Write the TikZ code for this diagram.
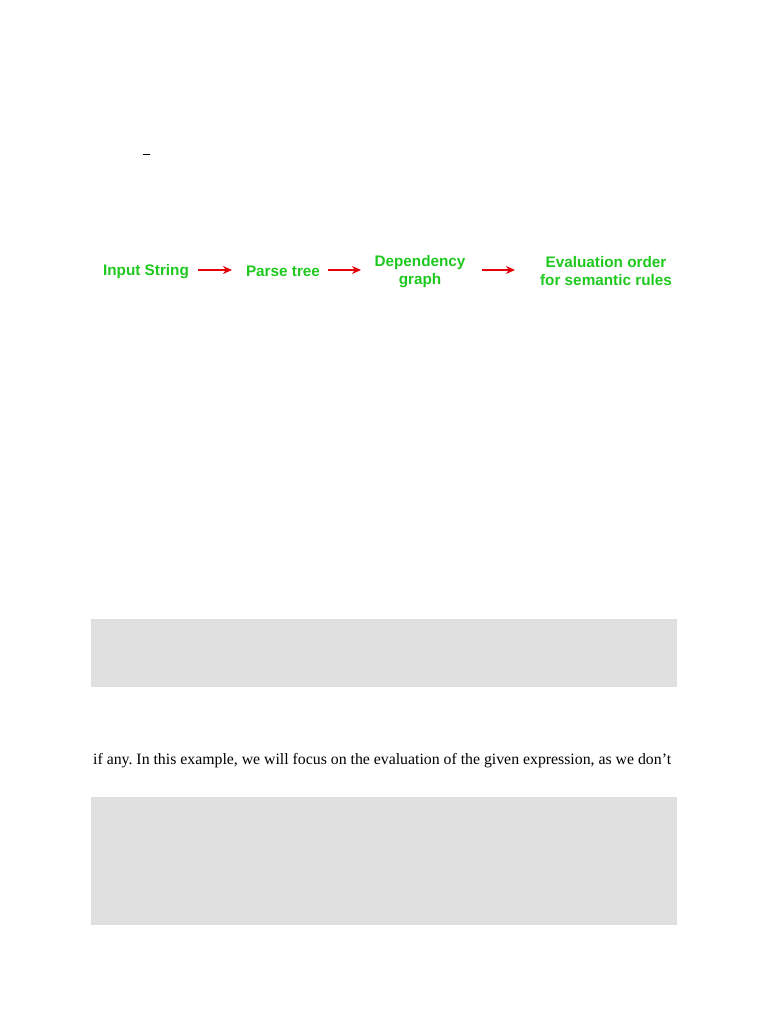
\documentclass[tikz,border=0pt]{standalone}
\usepackage{fontspec}
\setmainfont{Liberation Serif}
\setsansfont{Liberation Sans}
\usetikzlibrary{arrows.meta}
\definecolor{lblgreen}{RGB}{30,200,30}
\definecolor{arrred}{RGB}{230,0,10}
\definecolor{boxgray}{RGB}{224,224,224}
\begin{document}
\frenchspacing
\begin{tikzpicture}[x=1pt,y=-1pt,
  stage/.style={font=\sffamily\bfseries\fontsize{15.3}{18}\selectfont, text=lblgreen, align=center, inner sep=0pt},
  flow/.style={draw=arrred, line width=1.8pt, -{Stealth[length=9pt,width=8pt]}},
  graybox/.style={fill=boxgray, draw=none}]
\useasboundingbox (0,0) rectangle (768,1024);
\draw[line width=1pt] (143,155) -- (150,155);
\node[stage] (in) at (146,272) {Input String};
\node[stage] (pt) at (283,271) {Parse tree};
\node[stage] (dg) at (420,272) {Dependency\\graph};
\node[stage] (eo) at (606,271) {Evaluation order\\for semantic rules};
\coordinate (a1s) at (198,270); \coordinate (a1e) at (232,270);
\coordinate (a2s) at (328,270); \coordinate (a2e) at (361,270);
\coordinate (a3s) at (482,270); \coordinate (a3e) at (515,270);
\draw[flow] (a1s) -- (a1e);
\draw[flow] (a2s) -- (a2e);
\draw[flow] (a3s) -- (a3e);
\fill[graybox] (91,619) rectangle (677,687);
\node[anchor=base west, inner sep=0pt, font=\fontsize{15.8}{18}\selectfont] (txt) at (93,764) {if any. In this example, we will focus on the evaluation of the given expression, as we don’t};
\fill[graybox] (91,797) rectangle (677,925);
\end{tikzpicture}
\end{document}
